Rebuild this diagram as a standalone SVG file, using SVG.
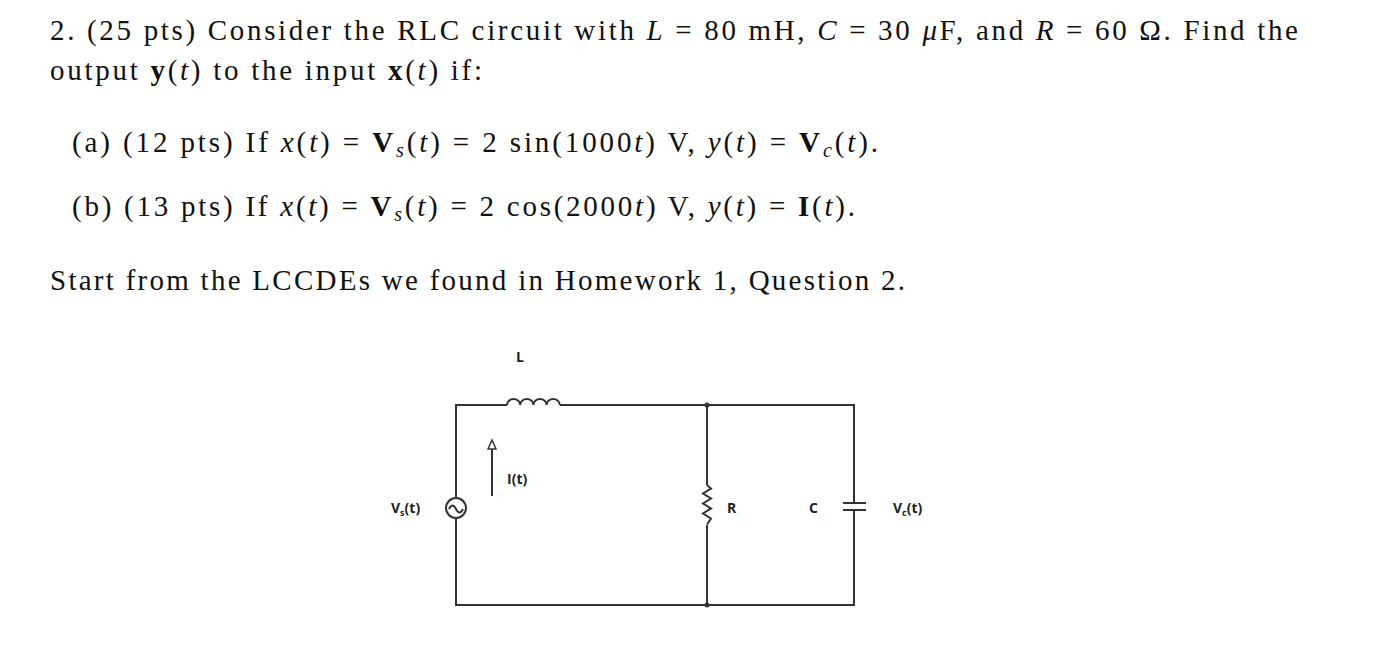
<svg xmlns="http://www.w3.org/2000/svg" width="1374" height="664" viewBox="0 0 1374 664">
<style>
.t{font-family:"Liberation Serif",serif;font-size:29px;fill:#111}
.b{font-weight:bold}
.i{font-style:italic}
.c{font-family:"Open Sans","DejaVu Sans",sans-serif;font-size:14px;font-weight:bold;fill:#222}
.w{fill:none;stroke:#333;stroke-width:2}
</style>
<rect width="1374" height="664" fill="#fff"/>
<g id="text">
<text class="t" x="50" y="40" textLength="1248" lengthAdjust="spacing">2. (25 pts) Consider the RLC circuit with <tspan class="i">L</tspan> = 80 mH, <tspan class="i">C</tspan> = 30 <tspan class="i">μ</tspan>F, and <tspan class="i">R</tspan> = 60 Ω. Find the</text>
<text class="t" x="50" y="80" textLength="432" lengthAdjust="spacing">output <tspan class="b">y</tspan>(<tspan class="i">t</tspan>) to the input <tspan class="b">x</tspan>(<tspan class="i">t</tspan>) if:</text>
<text class="t" x="72" y="152" textLength="806" lengthAdjust="spacing">(a)  (12 pts) If <tspan class="i">x</tspan>(<tspan class="i">t</tspan>) = <tspan class="b">V</tspan><tspan class="i" font-size="20" dy="5">s</tspan><tspan dy="-5">(</tspan><tspan class="i">t</tspan>) = 2 sin(1000<tspan class="i">t</tspan>) V, <tspan class="i">y</tspan>(<tspan class="i">t</tspan>) = <tspan class="b">V</tspan><tspan class="i" font-size="20" dy="5">c</tspan><tspan dy="-5">(</tspan><tspan class="i">t</tspan>).</text>
<text class="t" x="72" y="216" textLength="783" lengthAdjust="spacing">(b)  (13 pts) If <tspan class="i">x</tspan>(<tspan class="i">t</tspan>) = <tspan class="b">V</tspan><tspan class="i" font-size="20" dy="5">s</tspan><tspan dy="-5">(</tspan><tspan class="i">t</tspan>) = 2 cos(2000<tspan class="i">t</tspan>) V, <tspan class="i">y</tspan>(<tspan class="i">t</tspan>) = <tspan class="b">I</tspan>(<tspan class="i">t</tspan>).</text>
<text class="t" x="50" y="290" textLength="855" lengthAdjust="spacing">Start from the LCCDEs we found in Homework 1, Question 2.</text>
</g>
<g id="connectors">
<path class="w" d="M507,405 H456 V498 M456,518 V605 H854 V510 M854,503 V405 H560 M707,405 V485 M707,525 V605"/>
</g>
<g id="L"><path class="w" d="M507,405 a6.6,6 0 0 1 13.2,0 a6.6,6 0 0 1 13.2,0 a6.6,6 0 0 1 13.2,0 a6.6,6 0 0 1 13.2,0"/><text class="c" x="516" y="362">L</text></g>
<g id="Vs"><circle class="w" cx="456" cy="508" r="10"/><path class="w" d="M449,509 q3.5,-7 7,0 t7,0" stroke-width="1.5"/><text class="c" x="391" y="513">V<tspan font-size="9" dy="3">s</tspan><tspan dy="-3">(t)</tspan></text></g>
<g id="I"><path class="w" d="M492,496 V448"/><path d="M492,440 L488,449 H496 Z" fill="#fff" stroke="#333" stroke-width="1.5"/><text class="c" x="507" y="484">I(t)</text></g>
<g id="R"><path class="w" d="M707,485 l4,3.5 l-8,5 l8,5 l-8,5 l8,5 l-8,5 l8,5 l-4,6"/><text class="c" x="727" y="513">R</text></g>
<g id="C"><path class="w" d="M843,503 H866 M843,510 H866"/><text class="c" x="809" y="513">C</text><text class="c" x="893" y="513">V<tspan font-size="9" dy="3">c</tspan><tspan dy="-3">(t)</tspan></text></g>
<g id="dots"><circle cx="707" cy="405" r="2.5" fill="#333"/><circle cx="707" cy="605" r="2.5" fill="#333"/></g>
</svg>
